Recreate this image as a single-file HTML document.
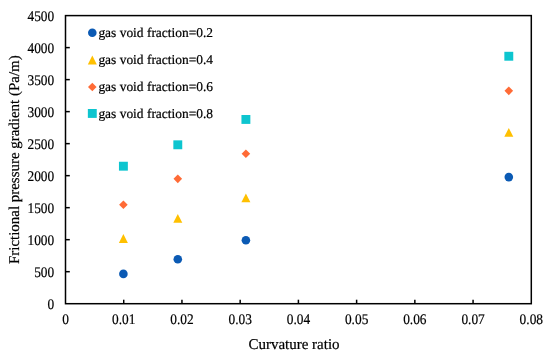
<!DOCTYPE html>
<html><head><meta charset="utf-8"><style>
html,body{margin:0;padding:0;background:#fff;}
svg{display:block;}
text{font-family:'Liberation Serif', 'Times New Roman', serif;fill:#000;text-rendering:geometricPrecision;stroke:#000;stroke-width:0.2px;}
</style></head><body>
<svg width="550" height="358" viewBox="0 0 550 358">
<rect width="550" height="358" fill="#fff"/>
<rect x="65.50" y="15.60" width="465.80" height="288.10" fill="none" stroke="#000" stroke-width="1.5"/>
<text transform="translate(54.20,308.70) scale(0.91,1)" text-anchor="end" font-size="14.7">0</text>
<line x1="65.50" y1="271.69" x2="69.80" y2="271.69" stroke="#000" stroke-width="1.5"/>
<text transform="translate(54.20,276.69) scale(0.91,1)" text-anchor="end" font-size="14.7">500</text>
<line x1="65.50" y1="239.68" x2="69.80" y2="239.68" stroke="#000" stroke-width="1.5"/>
<text transform="translate(54.20,244.68) scale(0.91,1)" text-anchor="end" font-size="14.7">1000</text>
<line x1="65.50" y1="207.67" x2="69.80" y2="207.67" stroke="#000" stroke-width="1.5"/>
<text transform="translate(54.20,212.67) scale(0.91,1)" text-anchor="end" font-size="14.7">1500</text>
<line x1="65.50" y1="175.66" x2="69.80" y2="175.66" stroke="#000" stroke-width="1.5"/>
<text transform="translate(54.20,180.66) scale(0.91,1)" text-anchor="end" font-size="14.7">2000</text>
<line x1="65.50" y1="143.64" x2="69.80" y2="143.64" stroke="#000" stroke-width="1.5"/>
<text transform="translate(54.20,148.64) scale(0.91,1)" text-anchor="end" font-size="14.7">2500</text>
<line x1="65.50" y1="111.63" x2="69.80" y2="111.63" stroke="#000" stroke-width="1.5"/>
<text transform="translate(54.20,116.63) scale(0.91,1)" text-anchor="end" font-size="14.7">3000</text>
<line x1="65.50" y1="79.62" x2="69.80" y2="79.62" stroke="#000" stroke-width="1.5"/>
<text transform="translate(54.20,84.62) scale(0.91,1)" text-anchor="end" font-size="14.7">3500</text>
<line x1="65.50" y1="47.61" x2="69.80" y2="47.61" stroke="#000" stroke-width="1.5"/>
<text transform="translate(54.20,52.61) scale(0.91,1)" text-anchor="end" font-size="14.7">4000</text>
<text transform="translate(54.20,20.60) scale(0.91,1)" text-anchor="end" font-size="14.7">4500</text>
<text transform="translate(65.50,324.20) scale(0.91,1)" text-anchor="middle" font-size="14.7">0</text>
<line x1="123.72" y1="303.70" x2="123.72" y2="299.70" stroke="#000" stroke-width="1.5"/>
<text transform="translate(123.72,324.20) scale(0.91,1)" text-anchor="middle" font-size="14.7">0.01</text>
<line x1="181.95" y1="303.70" x2="181.95" y2="299.70" stroke="#000" stroke-width="1.5"/>
<text transform="translate(181.95,324.20) scale(0.91,1)" text-anchor="middle" font-size="14.7">0.02</text>
<line x1="240.17" y1="303.70" x2="240.17" y2="299.70" stroke="#000" stroke-width="1.5"/>
<text transform="translate(240.17,324.20) scale(0.91,1)" text-anchor="middle" font-size="14.7">0.03</text>
<line x1="298.40" y1="303.70" x2="298.40" y2="299.70" stroke="#000" stroke-width="1.5"/>
<text transform="translate(298.40,324.20) scale(0.91,1)" text-anchor="middle" font-size="14.7">0.04</text>
<line x1="356.62" y1="303.70" x2="356.62" y2="299.70" stroke="#000" stroke-width="1.5"/>
<text transform="translate(356.62,324.20) scale(0.91,1)" text-anchor="middle" font-size="14.7">0.05</text>
<line x1="414.85" y1="303.70" x2="414.85" y2="299.70" stroke="#000" stroke-width="1.5"/>
<text transform="translate(414.85,324.20) scale(0.91,1)" text-anchor="middle" font-size="14.7">0.06</text>
<line x1="473.07" y1="303.70" x2="473.07" y2="299.70" stroke="#000" stroke-width="1.5"/>
<text transform="translate(473.07,324.20) scale(0.91,1)" text-anchor="middle" font-size="14.7">0.07</text>
<text transform="translate(531.30,324.20) scale(0.91,1)" text-anchor="middle" font-size="14.7">0.08</text>
<circle cx="123.40" cy="273.90" r="4.3" fill="#0B5AB4"/>
<circle cx="177.80" cy="259.30" r="4.3" fill="#0B5AB4"/>
<circle cx="245.90" cy="240.20" r="4.3" fill="#0B5AB4"/>
<circle cx="508.80" cy="177.10" r="4.3" fill="#0B5AB4"/>
<polygon points="118.90,242.90 127.90,242.90 123.40,234.10" fill="#FFC000"/>
<polygon points="173.30,222.70 182.30,222.70 177.80,213.90" fill="#FFC000"/>
<polygon points="241.40,202.20 250.40,202.20 245.90,193.40" fill="#FFC000"/>
<polygon points="504.30,136.80 513.30,136.80 508.80,128.00" fill="#FFC000"/>
<polygon points="123.40,200.45 127.70,204.75 123.40,209.05 119.10,204.75" fill="#FF6B36"/>
<polygon points="177.80,174.55 182.10,178.85 177.80,183.15 173.50,178.85" fill="#FF6B36"/>
<polygon points="245.90,149.40 250.20,153.70 245.90,158.00 241.60,153.70" fill="#FF6B36"/>
<polygon points="508.80,86.55 513.10,90.85 508.80,95.15 504.50,90.85" fill="#FF6B36"/>
<rect x="118.95" y="161.75" width="8.9" height="8.9" fill="#0DC5CF"/>
<rect x="173.35" y="140.35" width="8.9" height="8.9" fill="#0DC5CF"/>
<rect x="241.45" y="115.00" width="8.9" height="8.9" fill="#0DC5CF"/>
<rect x="504.35" y="51.80" width="8.9" height="8.9" fill="#0DC5CF"/>
<circle cx="92.30" cy="32.75" r="4.3" fill="#0B5AB4"/>
<text x="98.4" y="37.10" font-size="13.45">gas void fraction=0.2</text>
<polygon points="87.80,64.40 96.80,64.40 92.30,55.60" fill="#FFC000"/>
<text x="98.4" y="63.75" font-size="13.45">gas void fraction=0.4</text>
<polygon points="92.30,82.70 96.60,87.00 92.30,91.30 88.00,87.00" fill="#FF6B36"/>
<text x="98.4" y="90.80" font-size="13.45">gas void fraction=0.6</text>
<rect x="87.85" y="109.00" width="8.9" height="8.9" fill="#0DC5CF"/>
<text x="98.4" y="117.60" font-size="13.45">gas void fraction=0.8</text>
<text x="294" y="349" text-anchor="middle" font-size="15">Curvature ratio</text>
<text transform="translate(18.7,159.7) rotate(-90)" text-anchor="middle" font-size="14.94">Frictional pressure gradient (Pa/m)</text>
</svg>
</body></html>
